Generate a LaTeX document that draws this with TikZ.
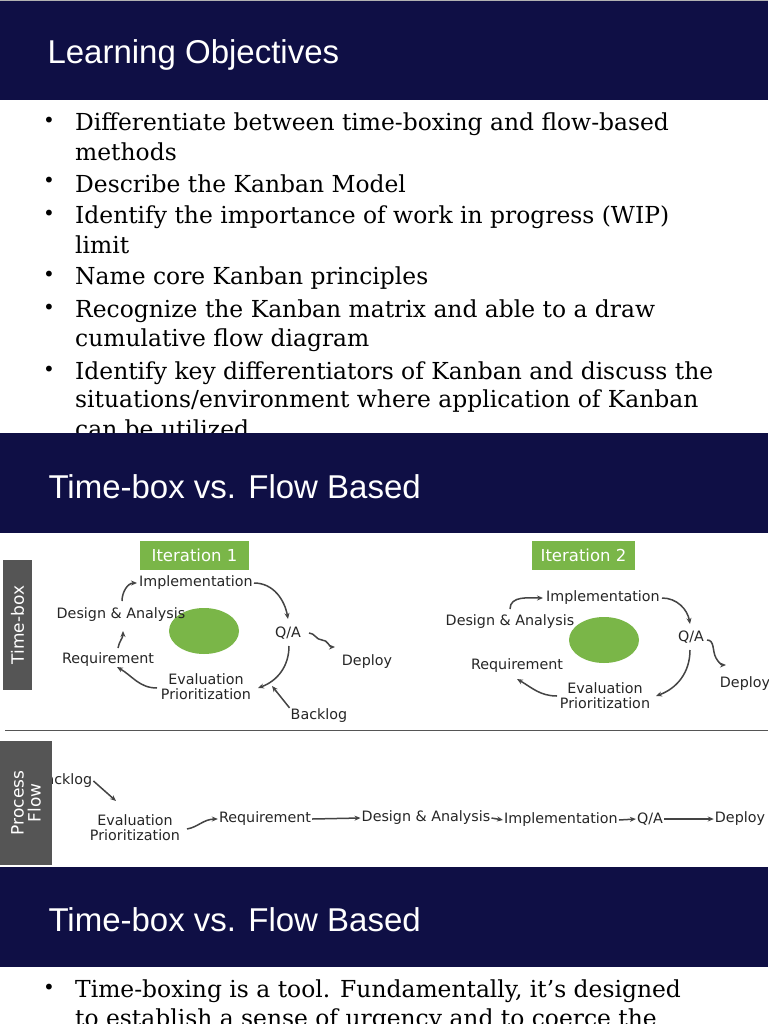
\documentclass[tikz,border=0pt]{standalone}
\usepackage{fontspec}
\setmainfont{DejaVu Serif}
\newfontfamily\hsans{Liberation Sans}
\newfontfamily\dsans{DejaVu Sans}
\usetikzlibrary{arrows.meta}
\definecolor{navy}{HTML}{0F0F45}
\definecolor{kgreen}{HTML}{7AB648}
\definecolor{dgray}{HTML}{555555}
\definecolor{agray}{HTML}{444444}
\begin{document}
\begin{tikzpicture}[x=1pt,y=-1pt,
  title/.style={anchor=west,text=white,font=\hsans\fontsize{33}{33}\selectfont},
  bul/.style={anchor=west,font=\fontsize{23.4}{23}\selectfont,inner sep=0},
  dot/.style={anchor=west,font=\fontsize{20}{20}\selectfont,inner sep=0},
  lbl/.style={font=\dsans\fontsize{14.3}{15}\selectfont,text=black!85,inner sep=1pt},
  arr/.style={agray,line width=1.5pt,-{Stealth[length=6pt,width=5pt]}},
  side/.style={fill=dgray,text=white,font=\dsans\fontsize{17}{17}\selectfont,rotate=90,align=center}]
\useasboundingbox (0,0) rectangle (768,1024);
\fill[white] (0,0) rectangle (768,1024);
% bullets section 1
\foreach \y in {122,182,215,276,309,371}
  {\node[dot] at (43,\y) {\textbullet}; }
\node[bul] (b1) at (75,124) {Differentiate between time-boxing and flow-based};
\node[bul] (b1b) at (75,152) {methods};
\node[bul] (b2) at (75,184) {Describe the Kanban Model};
\node[bul] (b3) at (75,217) {Identify the importance of work in progress (WIP)};
\node[bul] (b3b) at (75,245) {limit};
\node[bul] (b4) at (75,278) {Name core Kanban principles};
\node[bul] (b5) at (75,311) {Recognize the Kanban matrix and able to a draw};
\node[bul] (b5b) at (75,340) {cumulative flow diagram};
\node[bul] (b6) at (75,373) {Identify key differentiators of Kanban and discuss the};
\node[bul] (b6b) at (75,401) {situations/environment where application of Kanban};
\node[bul] (b6c) at (75,429) {can be utilized};
% headers
\fill[navy] (0,0) rectangle (768,100);
\draw[gray!60] (0,0.5) -- (768,0.5);
\node[title] (t1) at (44,55) {Learning Objectives};
\fill[navy] (0,433) rectangle (768,533);
\node[title] (t2) at (45,487) {Time-box vs. Flow Based};
\fill[navy] (0,867) rectangle (768,967);
\node[title] (t3) at (45,920) {Time-box vs. Flow Based};
% bottom bullet
\node[dot] at (43,989) {\textbullet};
\node[bul] (c1) at (75,991) {Time-boxing is a tool. Fundamentally, it’s designed};
\node[bul] (c2) at (75,1020) {to establish a sense of urgency and to coerce the};
% diagram
\node[fill=kgreen,text=white,font=\dsans\fontsize{16.5}{16}\selectfont,minimum width=109,minimum height=29] (it1) at (194.5,555.5) {Iteration 1};
\node[fill=kgreen,text=white,font=\dsans\fontsize{16.5}{16}\selectfont,minimum width=103,minimum height=29] (it2) at (583.5,555.5) {Iteration 2};
\node[side,minimum width=130,minimum height=29] (tb) at (17.5,625) {Time-box};
\draw[dgray,line width=1pt] (5,730) -- (768,730);
% iteration 1
\fill[kgreen] (204,631) ellipse (35 and 23);
\node[lbl] (im1) at (196,583) {Implementation};
\node[lbl] (da1) at (121,615) {Design \& Analysis};
\node[lbl] (qa1) at (288,633) {Q/A};
\node[lbl] (de1) at (367,662) {Deploy};
\node[lbl] (rq1) at (108,660) {Requirement};
\node[lbl,align=center] (ev1) at (206,687) {Evaluation\\Prioritization};
\node[lbl] (bl1) at (319,716) {Backlog};
\draw[arr] (bl1.north west) -- (272,686);
\draw[arr] (289,646) to[out=-90,in=20] (258,688);
\draw[arr] (157,688) to[out=180,in=-30] (117,667);
\draw[arr] (118,648) to[out=80,in=-90] (123,631);
\draw[arr] (122,601) to[out=90,in=180] (137,583);
\draw[arr] (254,583) to[out=0,in=100] (288,619);
\draw[arr] (309,633) to[out=0,in=180] (322,640) to[out=0,in=180] (335,647);
% iteration 2
\fill[kgreen] (604,640) ellipse (35 and 23);
\node[lbl] (im2) at (603,598) {Implementation};
\node[lbl] (da2) at (510,622) {Design \& Analysis};
\node[lbl] (qa2) at (691,637) {Q/A};
\node[lbl] (de2) at (745,684) {Deploy};
\node[lbl] (rq2) at (517,666) {Requirement};
\node[lbl,align=center] (ev2) at (605,696) {Evaluation\\Prioritization};
\draw[arr] (690,650) to[out=-90,in=20] (656,696);
\draw[arr] (557,696) to[out=180,in=-30] (517,679);
\draw[arr] (510,609) to[out=90,in=180] (543,598);
\draw[arr] (662,598) to[out=0,in=100] (690,624);
\draw[arr] (707,640) to[out=0,in=120] (716,658) to[out=-60,in=180] (726,665);
% process flow
\node[lbl] (bl3) at (64,781) {Backlog};
\node[side,minimum width=124,minimum height=52] (pf) at (26,803) {Process\\Flow};
\node[lbl,align=center] (ev3) at (135,828) {Evaluation\\Prioritization};
\node[lbl] (rq3) at (265,819) {Requirement};
\node[lbl] (da3) at (426,818) {Design \& Analysis};
\node[lbl] (im3) at (561,820) {Implementation};
\node[lbl] (qa3) at (650,819) {Q/A};
\node[lbl] (de3) at (740,819) {Deploy};
\draw[arr] (bl3.east) -- (116,801);
\draw[arr] (187,829) to[out=10,in=180] (215,819) -- (rq3.west);
\draw[arr] (rq3.east) -- (da3.west);
\draw[arr] (da3.east) -- (im3.west);
\draw[arr] (im3.east) -- (qa3.west);
\draw[arr] (qa3.east) -- (de3.west);
\end{tikzpicture}
\end{document}
